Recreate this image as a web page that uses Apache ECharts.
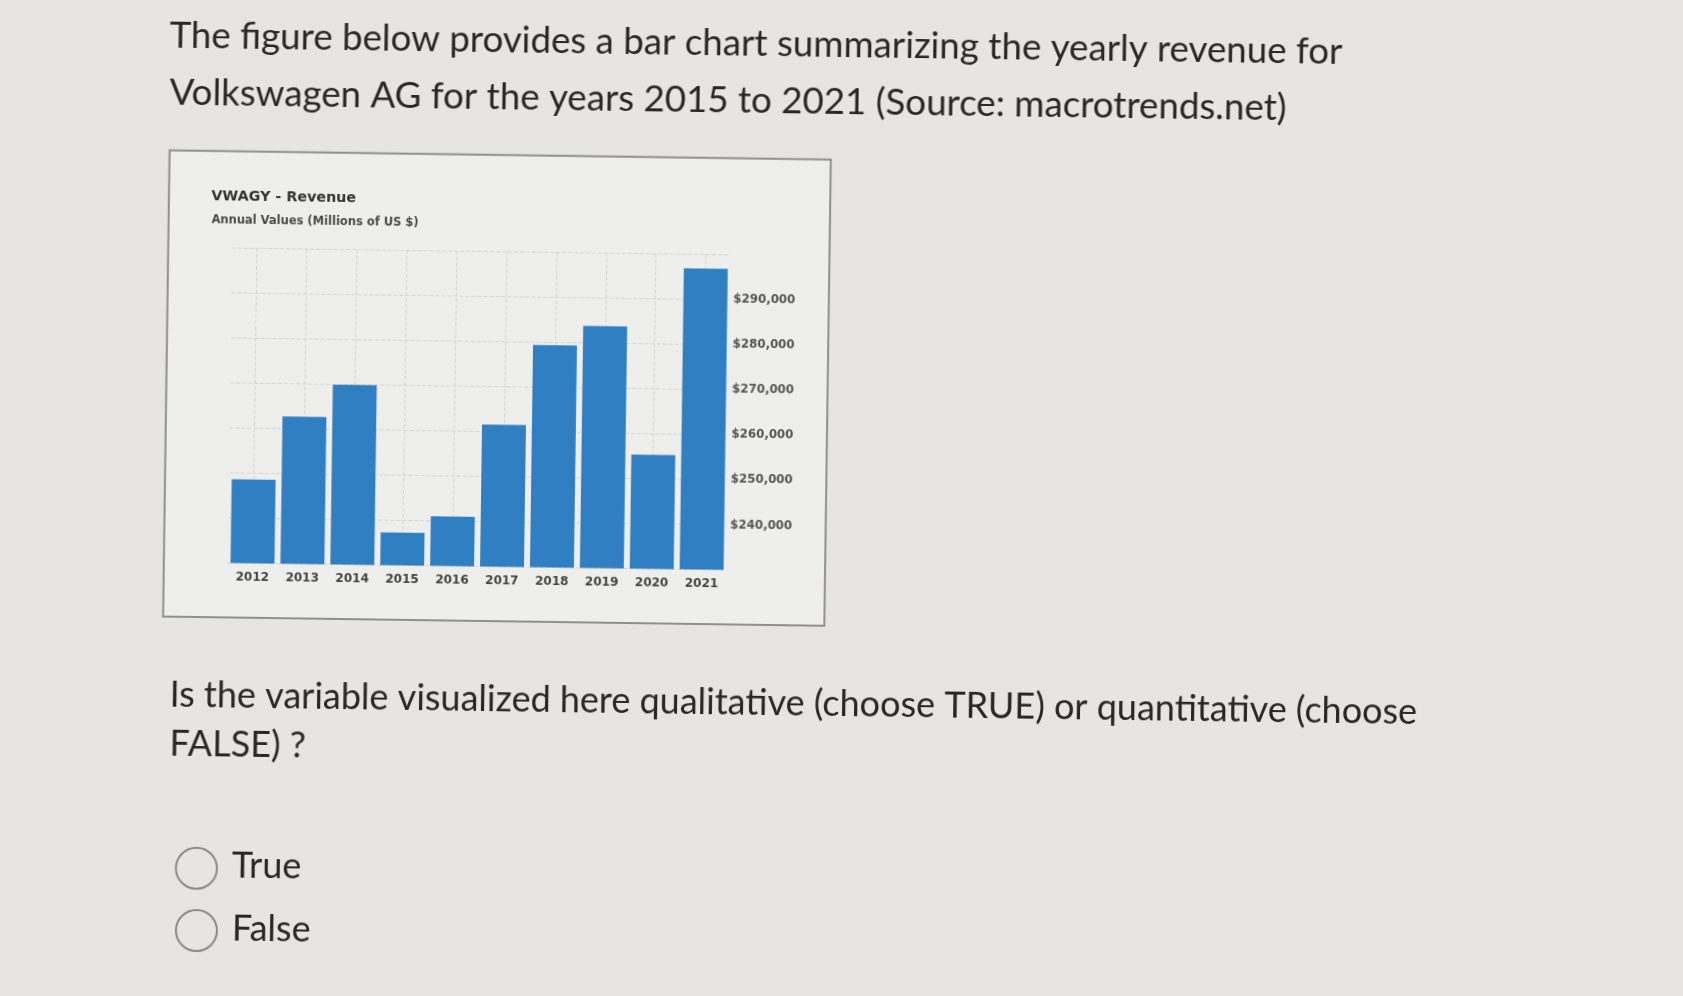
<!DOCTYPE html>
<html><head><meta charset="utf-8">
<script src="https://cdn.jsdelivr.net/npm/echarts@6/dist/echarts.min.js"></script>
<style>
html,body{margin:0;padding:0;width:1683px;height:996px;overflow:hidden;background:#e6e5e3;}
#c{width:1683px;height:996px;transform:rotate(0.8deg);transform-origin:841.5px 498px;}
</style></head><body><div id="c"></div>
<script>
const years = ['2012','2013','2014','2015','2016','2017','2018','2019','2020','2021'];
const revenue = [248600, 262700, 269900, 237300, 241000, 261500, 279300, 283700, 255300, 296800];
const yTicks = [240000, 250000, 260000, 270000, 280000, 290000];
const headingLines = ['The figure below provides a bar chart summarizing the yearly revenue for',
                      'Volkswagen AG for the years 2015 to 2021 (Source: macrotrends.net)'];
const questionLines = ['Is the variable visualized here qualitative (choose TRUE) or quantitative (choose',
                       'FALSE) ?'];
const choices = ['True', 'False'];
const chartTitle = 'VWAGY - Revenue';
const chartSubtitle = 'Annual Values (Millions of US $)';

// layout helpers: reference-photo coords -> unrotated page coords
const S = 1683 / 1568, TH = 0.8 * Math.PI / 180, CX = 841.5, CY = 498;
function P(xo, yo) {
  const x = xo * S - CX, y = yo * S - CY;
  return [CX + x * Math.cos(TH) + y * Math.sin(TH), CY - x * Math.sin(TH) + y * Math.cos(TH)];
}
const bodyFont = 'Lato, "Open Sans", sans-serif';
const textColor = '#282828';
const graphics = [];
function txt(str, xo, yo, size, weight, color, font) {
  const p = P(xo, yo);
  graphics.push({type: 'text', x: p[0], y: p[1], z: 10,
    style: {text: str, fontSize: size, fontWeight: weight || 'normal', fill: color || textColor,
            fontFamily: font || bodyFont, verticalAlign: 'middle', align: 'left'}});
}
// frame
const f1 = P(158, 140), f2 = P(768, 583);
graphics.push({type: 'rect', z: 0, shape: {x: f1[0], y: f1[1], width: f2[0] - f1[0], height: f2[1] - f1[1]},
  style: {fill: '#eeeeec', stroke: '#8f8f8f', lineWidth: 2}});
headingLines.forEach((l, i) => txt(l, 158, 33 + i * 53, 36.7));
questionLines.forEach((l, i) => txt(l, 158, 648 + i * 45, 36));
choices.forEach((c, i) => {
  const p = P(183, 809 + i * 58);
  graphics.push({type: 'circle', z: 10, shape: {cx: p[0], cy: p[1], r: 20.5},
    style: {fill: 'none', stroke: '#8a8a8a', lineWidth: 2}});
  txt(c, 216, 807 + i * 58, 36);
});
txt(chartTitle, 197, 183, 14.3, 'bold', '#333', '"DejaVu Sans", sans-serif');
txt(chartSubtitle, 197, 205, 11.5, 'bold', '#4a4a4a', '"DejaVu Sans", sans-serif');

const gl = P(212, 524)[0], gr = P(677, 526)[0];
const y230 = P(710, 489.5)[1] + 45.08, y300 = y230 - 7 * 45.08;

const chart = echarts.init(document.getElementById('c'));
chart.setOption({
  animation: false,
  backgroundColor: 'transparent',
  graphic: graphics,
  grid: {left: gl, width: gr - gl, top: y300, height: y230 - y300},
  xAxis: {type: 'category', data: years,
    axisLine: {show: false}, axisTick: {show: false},
    splitLine: {show: true, alignWithLabel: true, lineStyle: {color: '#d4d4d2', type: 'dashed'}},
    axisLabel: {margin: 8, fontSize: 12, fontWeight: 'bold', color: '#444', fontFamily: '"DejaVu Sans", sans-serif'}},
  yAxis: {type: 'value', position: 'right', min: 230000, max: 300000, interval: 10000,
    axisLine: {show: false}, axisTick: {show: false},
    splitLine: {lineStyle: {color: '#d4d4d2', type: 'dashed'}},
    axisLabel: {margin: 3, fontSize: 11.8, fontWeight: 'bold', color: '#555', fontFamily: '"DejaVu Sans", sans-serif',
      formatter: v => yTicks.indexOf(v) >= 0 ? '$' + v.toLocaleString('en-US') : ''}},
  series: [{type: 'bar', data: revenue, barCategoryGap: '12%',
    itemStyle: {color: '#2f7fc2'}}]
});
</script></body></html>
